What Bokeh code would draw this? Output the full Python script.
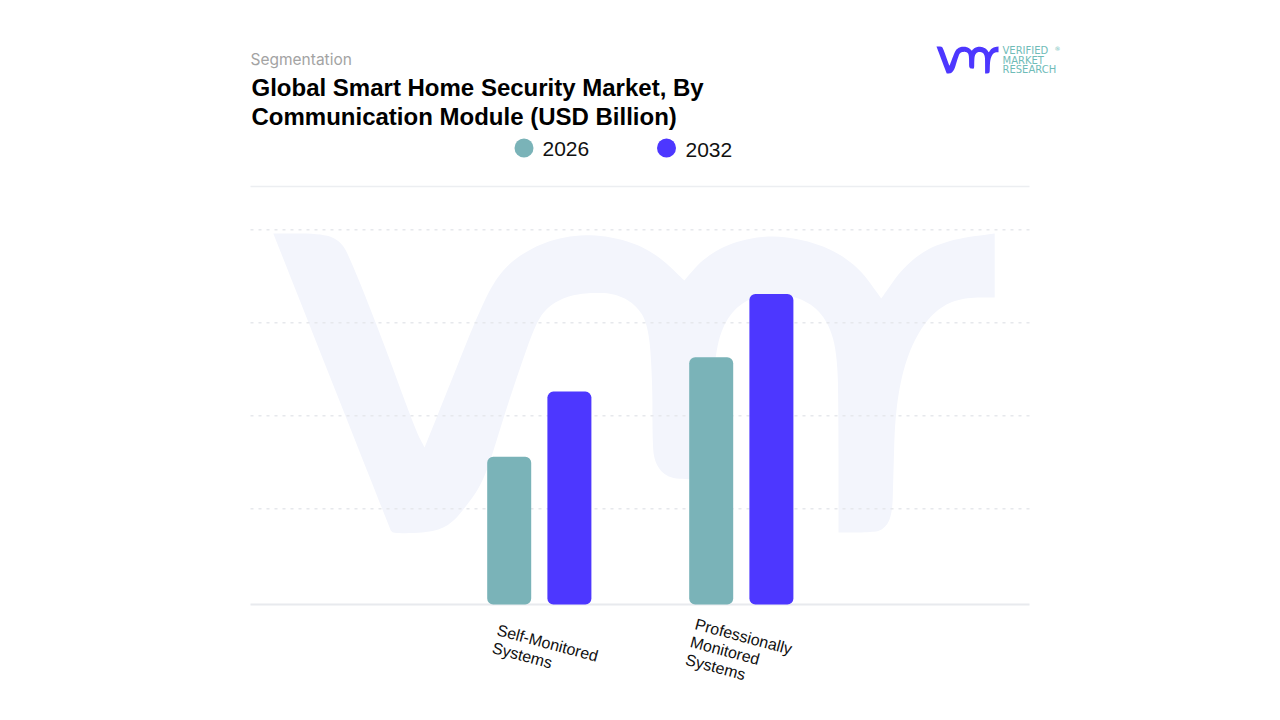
from bokeh.plotting import figure
from bokeh.embed import file_html
from bokeh.resources import INLINE
from bokeh.models import ColumnDataSource, FactorRange, Range1d, Label, PolyAnnotation
from bokeh.transform import dodge
import numpy as np

categories = ["Self-Monitored\nSystems", "Professionally\nMonitored\nSystems"]
years = ["2026", "2032"]
values_2026 = [1.56, 2.63]
values_2032 = [2.26, 3.31]
grid_values = [1, 2, 3, 4]
colors = ["#7ab3b8", "#4d37ff"]

# The frame fills the canvas, so that titles, legend and logo can be drawn in it
W, H = 1264, 704
F_L, F_B = 16, 704
PX_PER_VALUE = 93.0
ZERO_PY = 601.3
PX_PER_CAT = 202.0


def value_at(py):
    return (ZERO_PY - py) / PX_PER_VALUE


def cat_at(px):
    return 0.5 + (px - 539) / PX_PER_CAT


Y_BASE = value_at(604)
Y_TOP = value_at(186)
X_LEFT, X_RIGHT = cat_at(250), cat_at(1029)

source = ColumnDataSource(dict(cat=categories, y26=values_2026, y32=values_2032,
                               base=[Y_BASE] * len(categories)))

p = figure(width=W, height=H, output_backend="svg", toolbar_location=None,
           x_range=FactorRange(factors=categories, range_padding=(W - F_L) / PX_PER_CAT / 2 - 1,
                               range_padding_units="absolute"),
           y_range=Range1d(value_at(F_B), value_at(0)),
           x_axis_location=None, y_axis_location=None,
           min_border_left=F_L, min_border_right=0, min_border_top=0, min_border_bottom=0,
           background_fill_color="white", border_fill_color="white")
p.outline_line_color = None
p.xgrid.visible = False
p.ygrid.visible = False

# ---- logo outline (page pixels); a repeated point keeps a sharp corner
outline = [
    (273,233),(273,233),(273,233),(322,233),(340,240),(350,257),(383,340),(416,430),(425,447),(425,447),(425,447),
    (450,385),(476,320),(495,280),(515,258),(548,240),(589,233),(630,240),(660,255),(686,280),(686,280),(686,280),
    (705,258),(735,241),(778,234),(825,244),(860,265),(884,298),(884,298),(884,298),(905,268),(930,248),(960,238),
    (998,233),(998,233),(998,233),(998,297),(998,297),(998,297),(968,297),(945,305),(925,325),(908,360),(898,410),
    (896,480),(895,515),(886,530),(870,532),(841,532),(841,532),(841,532),(841,420),(840,353),(830,320),(810,300),
    (778,292),(750,298),(730,315),(718,345),(714,400),(714,479),(691,479),(668,477),(656,462),(654,440),(654,380),
    (650,323),(635,302),(615,293),(594,292),(570,295),(550,305),(537,322),(520,370),(505,415),(485,480),(466,507),
    (450,525),(430,532),(394,533),(391,530),(391,530),
]
pts = np.array(outline, dtype=float)
for _ in range(3):
    nxt = np.roll(pts, -1, axis=0)
    pts = np.column_stack([0.75 * pts + 0.25 * nxt, 0.25 * pts + 0.75 * nxt]).reshape(-1, 2)
xs, ys = 240 + (pts[:, 0] - 240) * 0.995, pts[:, 1]

p.add_layout(PolyAnnotation(xs=list(xs - F_L), ys=list(F_B - ys), xs_units="screen", ys_units="screen",
                            fill_color="#f3f5fc", fill_alpha=1, line_color=None, level="underlay"))
sx = 936 + (xs - 273) * 62 / 721
sy = 46 + (ys - 233) * 27 / 300
p.add_layout(PolyAnnotation(xs=list(sx - F_L), ys=list(F_B - sy), xs_units="screen", ys_units="screen",
                            fill_color=colors[1], fill_alpha=1, line_color=None, level="overlay"))

# ---- grid and base lines
p.segment(x0=[X_LEFT] * len(grid_values), x1=[X_RIGHT] * len(grid_values), y0=grid_values, y1=grid_values,
          line_color="#e6e8ec", line_width=1.5, line_dash="3 5")
p.segment(x0=[X_LEFT], x1=[X_RIGHT], y0=[Y_TOP], y1=[Y_TOP], line_color="#eceef1", line_width=1.5)
p.segment(x0=[X_LEFT], x1=[X_RIGHT], y0=[Y_BASE], y1=[Y_BASE], line_color="#e8eaee", line_width=2)

# ---- bars
common = dict(source=source, width=44 / PX_PER_CAT, bottom="base", border_radius=6, line_color=None)
p.vbar(x=dodge("cat", -0.15, range=p.x_range), top="y26", fill_color=colors[0], **common)
p.vbar(x=dodge("cat", 0.148, range=p.x_range), top="y32", fill_color=colors[1], **common)

# ---- category labels
p.text(x=categories, y=[Y_BASE] * len(categories), text=categories, angle=-0.26,
       x_offset=[-40, -44], y_offset=[17, 11], text_align="left", text_baseline="top",
       text_font={"value": "Liberation Sans"}, text_font_size="16px", text_color="#111111",
       text_line_height=1.08)


def text(x, y, t, **kw):
    p.add_layout(Label(x=x - F_L, y=F_B - y, x_units="screen", y_units="screen", text=t, **kw))


# ---- legend: swatches and labels
p.scatter(x=[cat_at(523.5), cat_at(666)], y=[value_at(147.5)] * 2, size=19, marker="circle",
          fill_color=colors, line_color=None)
legend_style = dict(text_font="Liberation Sans", text_font_size="21px", text_color="#111111",
                    text_baseline="middle")
text(542, 148, years[0], **legend_style)
text(685, 149, years[1], **legend_style)

# ---- headings and logo text
text(250, 59, "Segmentation", text_font="Inter", text_font_size="15.5px", text_color="#a3a3a3",
     text_baseline="middle")
title_style = dict(text_font="Liberation Sans", text_font_size="24px", text_font_style="bold",
                   text_color="#000000", text_baseline="middle")
text(251, 87, "Global Smart Home Security Market, By", **title_style)
text(251, 116, "Communication Module (USD Billion)", **title_style)
logo_style = dict(text_font="DejaVu Sans", text_font_size="10px", text_color="#6fbcb8", text_baseline="middle")
text(1002, 50, "VERIFIED", **logo_style)
text(1002, 59.5, "MARKET", **logo_style)
text(1002, 69, "RESEARCH", **logo_style)
text(1054, 48, "®", text_font="DejaVu Sans", text_font_size="6px", text_color="#6fbcb8", text_baseline="middle")

open("out.html", "w").write(file_html(p, INLINE))
